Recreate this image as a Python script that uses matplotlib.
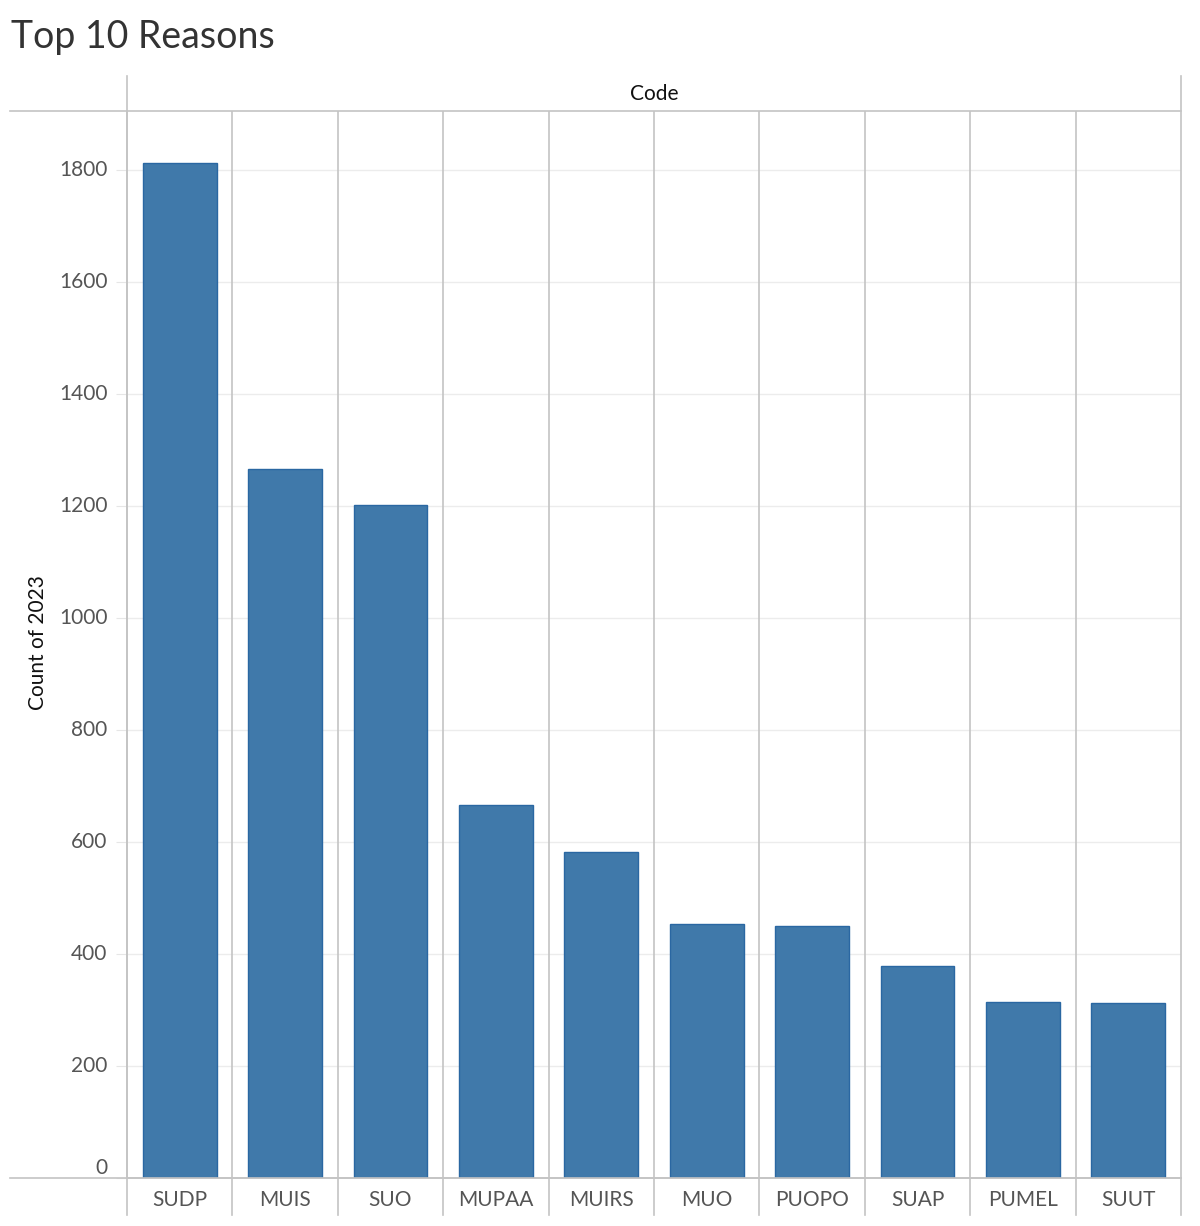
import numpy as np
import matplotlib.pyplot as plt
from matplotlib.lines import Line2D

codes = ['SUDP', 'MUIS', 'SUO', 'MUPAA', 'MUIRS', 'MUO', 'PUOPO', 'SUAP', 'PUMEL', 'SUUT']
counts = [1813, 1265, 1201, 666, 582, 453, 450, 378, 315, 312]
yticks = [0, 200, 400, 600, 800, 1000, 1200, 1400, 1600, 1800]

plt.rcParams['font.family'] = ['Lato', 'DejaVu Sans']

W, H = 1200, 1226
fig = plt.figure(figsize=(W / 100, H / 100), dpi=100)

# pixel positions of the pane
left, right, top, bottom = 127, 1181, 111, 1178
ax = fig.add_axes([left / W, 1 - bottom / H, (right - left) / W, (bottom - top) / H])

x = np.arange(len(codes))
ax.bar(x, counts, width=0.70, color='#4079aa', edgecolor='#2a67a2', linewidth=1, zorder=3)

ax.set_xlim(-0.5, len(codes) - 0.5)
ax.set_ylim(0, 1905)
ax.set_yticks(yticks)
ax.set_yticklabels([str(v) for v in yticks], fontsize=15, color='#555555')
ax.tick_params(axis='y', length=8, color='#e6e6e6', pad=6)
ax.tick_params(axis='x', length=0, labelbottom=False)
for lbl in ax.get_yticklabels():
    lbl.set_verticalalignment('bottom' if lbl.get_text() == '0' else 'center')

# light horizontal grid, vertical cell separators
for v in yticks[1:]:
    ax.axhline(v, color='#ececec', linewidth=1, zorder=1)
for i in range(1, len(codes)):
    ax.axvline(i - 0.5, color='#c4c4c4', linewidth=1.2, zorder=2)

for s in ['top', 'right']:
    ax.spines[s].set_visible(False)
ax.spines['left'].set_color('#c4c4c4')
ax.spines['left'].set_linewidth(1.2)
ax.spines['bottom'].set_color('#c4c4c4')
ax.spines['bottom'].set_linewidth(1.2)

fig.text(38 / W, 1 - 643 / H, 'Count of 2023', rotation=90, ha='center', va='center',
         fontsize=15, color='#111111')

# category labels below the pane
for i, c in enumerate(codes):
    ax.text(i, -0.011, c, transform=ax.get_xaxis_transform(), ha='center', va='top',
            fontsize=15, color='#555555')

# header and frame lines in figure pixels
def fline(x0, y0, x1, y1):
    fig.add_artist(Line2D([x0 / W, x1 / W], [1 - y0 / H, 1 - y1 / H],
                          color='#c4c4c4', linewidth=1.2))

fline(10, top, right, top)
fline(10, bottom, right, bottom)
fline(left, 76, left, 1215)
fline(right, 76, right, 1215)
cell = (right - left) / len(codes)
for i in range(1, len(codes)):
    fline(left + i * cell, bottom, left + i * cell, 1215)

fig.text((left + right) / 2 / W, 1 - 94 / H, 'Code', ha='center', va='center',
         fontsize=15, color='#111111')
fig.text(11 / W, 1 - 37 / H, 'Top 10 Reasons', ha='left', va='center',
         fontsize=27, color='#333333')

fig.savefig('out.png', dpi=100)
